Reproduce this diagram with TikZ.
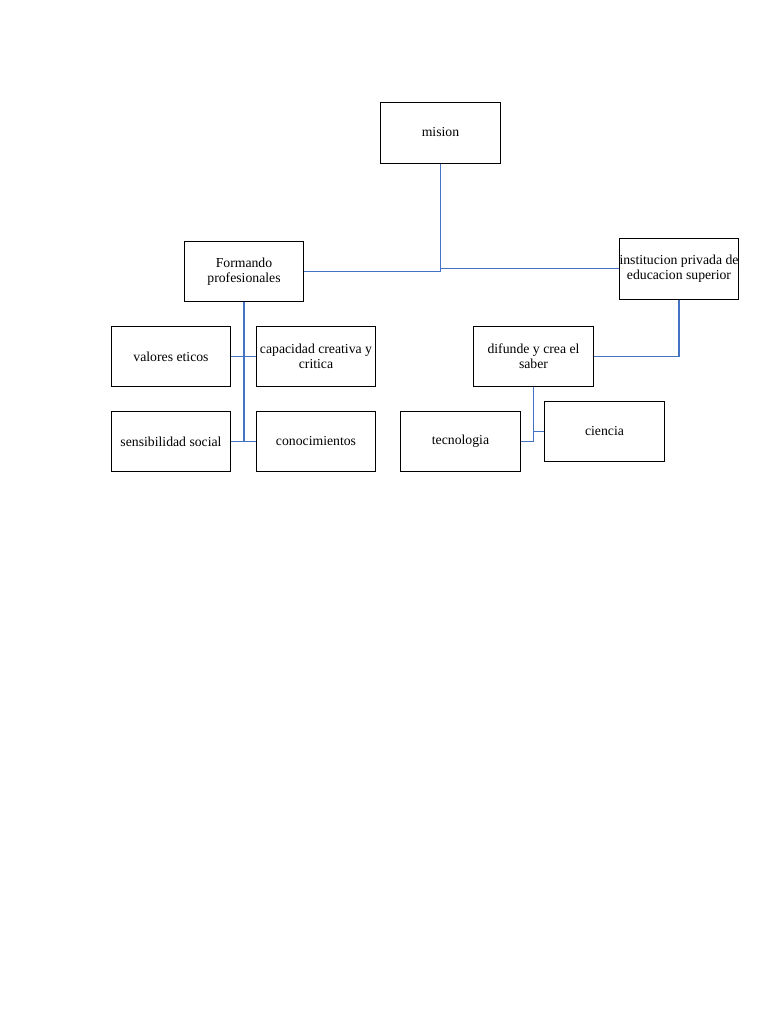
\documentclass[tikz,border=0pt]{standalone}
\usepackage{fontspec}
\setmainfont{Liberation Serif}
\usepackage{tikz}
\usetikzlibrary{positioning}
\definecolor{lineblue}{RGB}{68,114,196}

\begin{document}
\begin{tikzpicture}[
  x=0.75pt, y=-0.75pt,
  box/.style={draw, line width=0.7pt, minimum width=89.5pt, minimum height=44.5pt,
              inner sep=0pt, align=center, font=\fontsize{10.3}{11}\selectfont},
  tallbox/.style={box, minimum height=45.8pt},
  conn/.style={draw=lineblue, line width=0.8pt},
]
  \useasboundingbox (0,0) rectangle (768,1024);
  % Nivel 0: mision
  \node[tallbox] (mision)  at (440.5, 132.5) {mision};
  % Nivel 1
  \node[box]     (form)    at (244.0, 271.5) {Formando\\profesionales};
  \node[tallbox] (inst)    at (679.0, 268.5) {institucion privada de\\educacion superior};
  % Nivel 2: rama izquierda
  \node[box]     (valores) at (171.0, 356.5) {valores eticos};
  \node[box]     (capac)   at (316.0, 356.5) {capacidad creativa y\\critica};
  \node[box]     (sensib)  at (171.0, 441.5) {sensibilidad social};
  \node[box]     (conoc)   at (316.0, 441.5) {conocimientos};
  % Nivel 2: rama derecha
  \node[box]     (difunde) at (533.5, 356.5) {difunde y crea el\\saber};
  \node[box]     (tecno)   at (460.5, 441.5) {tecnologia};
  \node[box]     (ciencia) at (604.5, 431.5) {ciencia};
  % Conectores
  \draw[conn] (mision.south) |- (form.east);
  \draw[conn] (mision.south) |- (inst.west);
  \draw[conn] (inst.south)   |- (difunde.east);
  \draw[conn, line width=1.4pt] (form.south) -- (form.south |- sensib.east);
  \draw[conn] (form.south)   |- (valores.east);
  \draw[conn] (form.south)   |- (capac.west);
  \draw[conn] (form.south)   |- (sensib.east);
  \draw[conn] (form.south)   |- (conoc.west);
  \draw[conn] (difunde.south) |- (tecno.east);
  \draw[conn] (difunde.south) |- (ciencia.west);
\end{tikzpicture}
\end{document}
